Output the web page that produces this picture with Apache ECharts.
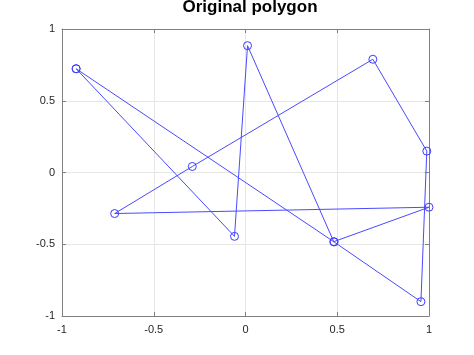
<!DOCTYPE html>
<html>
<head>
<meta charset="utf-8">
<script src="https://cdn.jsdelivr.net/npm/echarts@6/dist/echarts.min.js"></script>
<style>
  html, body { margin: 0; padding: 0; background: #fff; }
  #chart { width: 474px; height: 355px; }
</style>
</head>
<body>
<div id="chart"></div>
<script>
// polygon vertices, in drawing order (closed back to the first one)
var xs = [-0.923, -0.060, 0.011, 0.481, 1.000, -0.713, -0.290, 0.694, 0.988, 0.956, 0.483, -0.923];
var ys = [0.723, -0.445, 0.884, -0.482, -0.242, -0.286, 0.042, 0.789, 0.149, -0.900, -0.484, 0.723];
var ticks = [-1, -0.5, 0, 0.5, 1];
var title = 'Original polygon';

function init() {
    var chart = echarts.init(document.getElementById('chart'), null, { renderer: 'canvas' });

    var pts = [];
    for (var i = 0; i < xs.length; i++) pts.push([xs[i], ys[i]]);

    var frame = '#808080';
    var font = 'Liberation Sans, Arial, sans-serif';

    function axis(pos, showLabel, isX) {
        return {
            type: 'value',
            position: pos,
            min: ticks[0],
            max: ticks[ticks.length - 1],
            interval: 0.5,
            axisLine: { show: true, onZero: false, lineStyle: { color: frame, width: 1 } },
            axisTick: { show: true, inside: true, length: 4, lineStyle: { color: frame } },
            axisLabel: {
                show: showLabel,
                color: '#262626',
                fontFamily: font,
                fontSize: 11,
                margin: isX ? 8 : 7
            },
            splitLine: { show: showLabel, lineStyle: { color: '#e6e6e6', width: 1 } }
        };
    }

    var option = {
        animation: false,
        backgroundColor: '#fff',
        title: {
            text: title,
            left: 245,
            textAlign: 'center',
            top: -6,
            textStyle: { fontFamily: font, fontSize: 17, fontWeight: 'bold', color: '#000' }
        },
        grid: { left: 62, right: 45, top: 29, bottom: 39, containLabel: false },
        xAxis: [axis('bottom', true, true), axis('top', false, true)],
        yAxis: [axis('left', true, false), axis('right', false, false)],
        series: [{
            type: 'line',
            data: pts,
            symbol: 'circle',
            symbolSize: 8,
            showSymbol: true,
            itemStyle: { color: 'transparent', borderColor: '#3c3cff', borderWidth: 1 },
            lineStyle: { color: '#4a4aff', width: 1 },
            emphasis: { disabled: true }
        }]
    };
    chart.setOption(option);
}

init();
</script>
</body>
</html>
